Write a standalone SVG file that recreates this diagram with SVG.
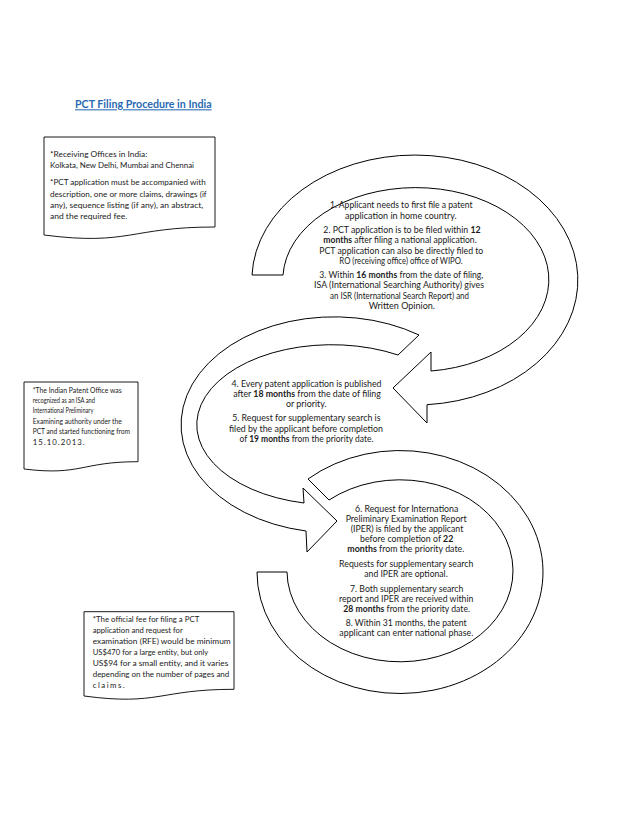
<svg xmlns="http://www.w3.org/2000/svg" width="638" height="826" viewBox="0 0 638 826">
<style>
.shape{fill:#fff;stroke:#000;stroke-width:1}
.note{fill:#fff;stroke:#000;stroke-width:0.9}
.t{font-family:Lato,"Liberation Sans",sans-serif;font-size:8.5px;fill:#1a1a1a;text-anchor:middle}
.n{font-family:Lato,"Liberation Sans",sans-serif;font-size:7.8px;fill:#1a1a1a}
.b{font-weight:bold}
.title{font-family:Lato,"Liberation Sans",sans-serif;font-size:10.5px;font-weight:bold;fill:#2a6ab3;text-decoration:underline}
</style>
<rect width="638" height="826" fill="#fff"/>
<text class="title" x="75" y="108.3" textLength="136.7" lengthAdjust="spacingAndGlyphs">PCT Filing Procedure in India</text>

<g id="connectors">
  <path id="arrow1" class="shape" d="M252 275 A163 125 0 1 1 427 404.7 L427 423 L393 388 L431 352 L431 371 A133 92 0 1 0 283 275 Z"/>
  <path id="arrow2" class="shape" d="M419 335 A153 108 0 1 0 306 531 L307 552 L337 521 L303 488 L304 503 A135 80 0 1 1 398 355 Z"/>
  <path id="arrow3" class="shape" d="M308 479 A143 121.5 0 1 1 257 572 L287 572 A113 91 0 1 0 329 500 Z"/>
</g>

<g id="step1-3">
  <text class="t" x="401.3" y="208.3" textLength="142.7" lengthAdjust="spacingAndGlyphs">1. Applicant needs to first file a patent</text>
  <text class="t" x="400.8" y="219.3" textLength="111.7" lengthAdjust="spacingAndGlyphs">application in home country.</text>
  <text class="t" x="402" y="232.7" textLength="157.4" lengthAdjust="spacingAndGlyphs">2. PCT application is to be filed within <tspan class="b">12</tspan></text>
  <text class="t" x="400" y="243.3" textLength="153.4" lengthAdjust="spacingAndGlyphs"><tspan class="b">months</tspan> after filing a national application.</text>
  <text class="t" x="401.3" y="253.6" textLength="164" lengthAdjust="spacingAndGlyphs">PCT application can also be directly filed to</text>
  <text class="t" x="401" y="264.2" textLength="123.4" lengthAdjust="spacingAndGlyphs">RO (receiving office) office of WIPO.</text>
  <text class="t" x="401.3" y="277.7" textLength="164" lengthAdjust="spacingAndGlyphs">3. Within <tspan class="b">16 months</tspan> from the date of filing,</text>
  <text class="t" x="399" y="288.3" textLength="170" lengthAdjust="spacingAndGlyphs">ISA (International Searching Authority) gives</text>
  <text class="t" x="399.5" y="298.7" textLength="139" lengthAdjust="spacingAndGlyphs">an ISR (International Search Report) and</text>
  <text class="t" x="401.8" y="309.3" textLength="66.3" lengthAdjust="spacingAndGlyphs">Written Opinion.</text>
</g>

<g id="step4-5">
  <text class="t" x="306.5" y="386.5" textLength="150" lengthAdjust="spacingAndGlyphs">4. Every patent application is published</text>
  <text class="t" x="307" y="396.8" textLength="147.7" lengthAdjust="spacingAndGlyphs">after <tspan class="b">18 months</tspan> from the date of filing</text>
  <text class="t" x="306.3" y="407" textLength="40.7" lengthAdjust="spacingAndGlyphs">or priority.</text>
  <text class="t" x="306.3" y="420.8" textLength="148.3" lengthAdjust="spacingAndGlyphs">5. Request for supplementary search is</text>
  <text class="t" x="306" y="431.5" textLength="154" lengthAdjust="spacingAndGlyphs">filed by the applicant before completion</text>
  <text class="t" x="306.5" y="442" textLength="134" lengthAdjust="spacingAndGlyphs">of <tspan class="b">19 months</tspan> from the priority date.</text>
</g>

<g id="step6-8">
  <text class="t" x="406.7" y="511.7" textLength="103.3" lengthAdjust="spacingAndGlyphs">6. Request for Internationa</text>
  <text class="t" x="406.2" y="521.7" textLength="121" lengthAdjust="spacingAndGlyphs">Preliminary Examination Report</text>
  <text class="t" x="407" y="531.7" textLength="112.6" lengthAdjust="spacingAndGlyphs">(IPER) is filed by the applicant</text>
  <text class="t" x="406.7" y="541.7" textLength="93.3" lengthAdjust="spacingAndGlyphs">before completion of <tspan class="b">22</tspan></text>
  <text class="t" x="405.8" y="552.3" textLength="117" lengthAdjust="spacingAndGlyphs"><tspan class="b">months</tspan> from the priority date.</text>
  <text class="t" x="406.2" y="567" textLength="134.3" lengthAdjust="spacingAndGlyphs">Requests for supplementary search</text>
  <text class="t" x="406" y="577" textLength="83.4" lengthAdjust="spacingAndGlyphs">and IPER are optional.</text>
  <text class="t" x="406.7" y="591.7" textLength="113.3" lengthAdjust="spacingAndGlyphs">7. Both supplementary search</text>
  <text class="t" x="406.2" y="601.7" textLength="134.3" lengthAdjust="spacingAndGlyphs">report and IPER are received within</text>
  <text class="t" x="406.7" y="612" textLength="126.7" lengthAdjust="spacingAndGlyphs"><tspan class="b">28 months</tspan> from the priority date.</text>
  <text class="t" x="406.2" y="626.3" textLength="121" lengthAdjust="spacingAndGlyphs">8. Within 31 months, the patent</text>
  <text class="t" x="406.3" y="636.3" textLength="134" lengthAdjust="spacingAndGlyphs">applicant can enter national phase.</text>
</g>

<g id="note1">
  <path class="note" d="M44 137 H215 V227 C129.5 227 129.5 246 44 235 Z"/>
  <text class="n" x="50" y="156.7" textLength="97.3" lengthAdjust="spacingAndGlyphs">*Receiving Offices in India:</text>
  <text class="n" x="50" y="167.7" textLength="144" lengthAdjust="spacingAndGlyphs">Kolkata, New Delhi, Mumbai and Chennai</text>
  <text class="n" x="50" y="185" textLength="155.7" lengthAdjust="spacingAndGlyphs">*PCT application must be accompanied with</text>
  <text class="n" x="50" y="196.7" textLength="156.7" lengthAdjust="spacingAndGlyphs">description, one or more claims, drawings (if</text>
  <text class="n" x="50" y="207.7" textLength="153.3" lengthAdjust="spacingAndGlyphs">any), sequence listing (if any), an abstract,</text>
  <text class="n" x="50" y="219" textLength="77.3" lengthAdjust="spacingAndGlyphs">and the required fee.</text>
</g>

<g id="note2">
  <path class="note" d="M24 382 H138 V461.7 C81 461.7 81 476 24 469 Z"/>
  <text class="n" x="32.7" y="392.7" textLength="89" lengthAdjust="spacingAndGlyphs">*The Indian Patent Office was</text>
  <text class="n" x="32.7" y="403.3" textLength="62.3" lengthAdjust="spacingAndGlyphs">recognized as an ISA and</text>
  <text class="n" x="32.7" y="413.3" textLength="60.6" lengthAdjust="spacingAndGlyphs">International Preliminary</text>
  <text class="n" x="32.7" y="424.3" textLength="89" lengthAdjust="spacingAndGlyphs">Examining authority under the</text>
  <text class="n" x="32.7" y="434" textLength="97.3" lengthAdjust="spacingAndGlyphs">PCT and started functioning from</text>
  <text class="n" x="32.7" y="445" textLength="52" lengthAdjust="spacing">15.10.2013.</text>
</g>

<g id="note3">
  <path class="note" d="M84 611.7 H234 V689.3 C159 689.3 159 706 84 696 Z"/>
  <text class="n" x="92.7" y="622.3" textLength="106.6" lengthAdjust="spacingAndGlyphs">*The official fee for filing a PCT</text>
  <text class="n" x="92.7" y="633.3" textLength="90" lengthAdjust="spacingAndGlyphs">application and request for</text>
  <text class="n" x="92.7" y="644.3" textLength="138" lengthAdjust="spacingAndGlyphs">examination (RFE) would be minimum</text>
  <text class="n" x="92.7" y="655" textLength="115.6" lengthAdjust="spacingAndGlyphs">US$470 for a large entity, but only</text>
  <text class="n" x="92.7" y="666" textLength="135.6" lengthAdjust="spacingAndGlyphs">US$94 for a small entity, and it varies</text>
  <text class="n" x="92.7" y="676.7" textLength="136.6" lengthAdjust="spacingAndGlyphs">depending on the number of pages and</text>
  <text class="n" x="92.7" y="687.7" textLength="32" lengthAdjust="spacing">claims.</text>
</g>
</svg>
